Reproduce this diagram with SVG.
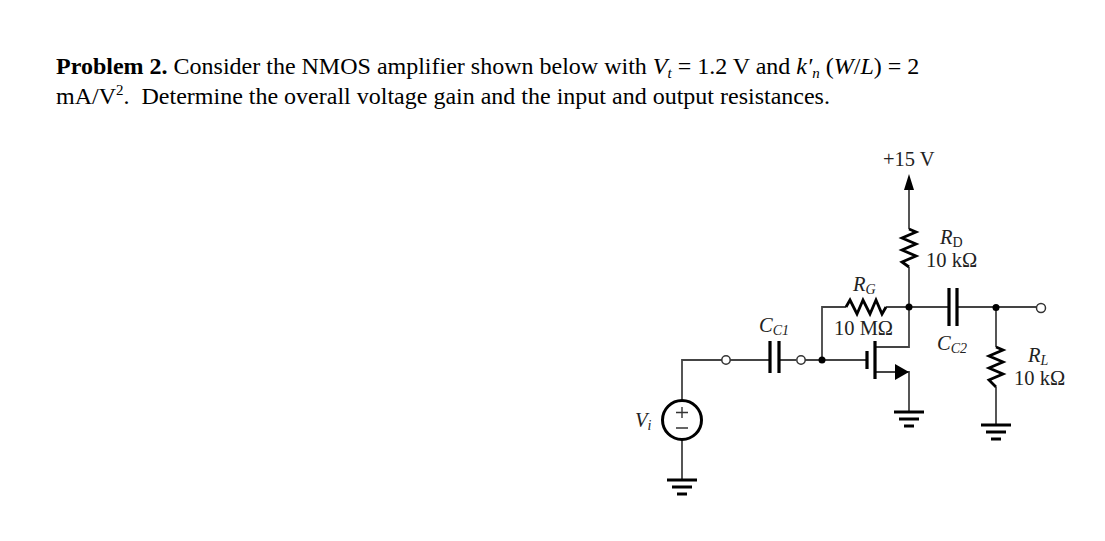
<svg xmlns="http://www.w3.org/2000/svg" width="1105" height="541" viewBox="0 0 1105 541">
<style>
text{font-family:"Liberation Serif","Times New Roman",serif;fill:#000}
.p{font-size:24px}
.c{font-size:20.500px;fill:#222}
.s{font-size:14px;fill:#222}
.i{font-style:italic}
.w{fill:none;stroke:#444;stroke-width:1.800}
.r{fill:none;stroke:#000;stroke-width:2.800;stroke-linejoin:miter}
.pl{fill:none;stroke:#000;stroke-width:3.200}
.o{fill:#fff;stroke:#333;stroke-width:1.500}
.d{fill:#000}
</style>
<defs>
<g id="gnd"><path d="M-15 0H15M-10 7H10M-5 14H5" fill="none" stroke="#000" stroke-width="3"/></g>
</defs>
<rect width="1105" height="541" fill="#fff"/>
<g id="problem-text">
<text class="p" x="56" y="73.500"><tspan font-weight="bold">Problem 2.</tspan> Consider the NMOS amplifier shown below with <tspan class="i">V</tspan><tspan class="i" font-size="15" dy="4">t</tspan><tspan dy="-4"> = 1.2 V and </tspan><tspan class="i">k′</tspan><tspan class="i" font-size="15" dy="4">n</tspan><tspan dy="-4"> (</tspan><tspan class="i">W</tspan>/<tspan class="i">L</tspan>) = 2</text>
<text class="p" x="56" y="103.500">mA/V<tspan font-size="15" dy="-9">2</tspan><tspan dy="9">.</tspan><tspan dx="6"> Determine the overall voltage gain and the input and output resistances.</tspan></text>
</g>
<g id="connectors">
<path class="w" d="M682 400V360H722M730 360H770M779 360H796M805 360H867M822 360V307H846M886 307H949M909 229V186M909 267V347H875M875 372H909V412M682 440V480M957 307H1037M996 307V347M996 387V425"/>
</g>
<g id="vcc"><path class="d" d="M909 174L904 190H914Z"/><text class="c" x="883" y="166">+15 V</text></g>
<g id="rd"><path class="r" d="M909 229L916 232L902 238L916 244L902 250L916 256L902 262L909 267"/>
<text class="c i" x="940" y="244">R<tspan class="s" font-style="normal" dy="3">D</tspan></text><text class="c" x="926" y="267">10 kΩ</text></g>
<g id="rg"><path class="r" d="M846 307L850 300L857 314L863 300L870 314L876 300L882 314L886 307"/>
<text class="c i" x="853" y="291">R<tspan class="s" dy="3">G</tspan></text><text class="c" x="834" y="335">10 MΩ</text></g>
<g id="cc1"><path class="pl" d="M770 341V373M779 341V373"/><text class="c i" x="759" y="332">C<tspan class="s" dy="3">C1</tspan></text><circle class="o" cx="726" cy="360" r="4.200"/><circle class="o" cx="801" cy="360" r="4.200"/></g>
<g id="cc2"><path class="pl" d="M949 288V326M957 288V326"/><text class="c i" x="937" y="350">C<tspan class="s" dy="3">C2</tspan></text></g>
<g id="mosfet"><path class="pl" d="M875 341V379M867 351V369"/><path class="d" d="M909 372L895 364V380Z"/><circle class="d" cx="822" cy="360" r="3.500"/><circle class="d" cx="909" cy="307" r="3.500"/></g>
<g id="rl"><path class="r" d="M996 347L1003 350L989 356L1003 362L989 368L1003 374L989 380L996 387"/>
<circle class="d" cx="996" cy="307.500" r="3.500"/><circle class="o" cx="1041" cy="308" r="4.500"/>
<text class="c i" x="1028" y="362">R<tspan class="s" dy="3">L</tspan></text><text class="c" x="1014" y="385">10 kΩ</text></g>
<g id="vi"><circle cx="682" cy="420" r="19.500" fill="#fff" stroke="#000" stroke-width="3"/><path d="M676 412.500H688M682 407V418M676 428H688" fill="none" stroke="#333" stroke-width="1.400"/>
<text class="c i" x="635" y="427">V<tspan class="s" dy="3">i</tspan></text></g>
<g id="grounds"><use href="#gnd" x="682" y="480"/><use href="#gnd" x="909" y="412"/><use href="#gnd" x="996" y="425"/></g>
</svg>
